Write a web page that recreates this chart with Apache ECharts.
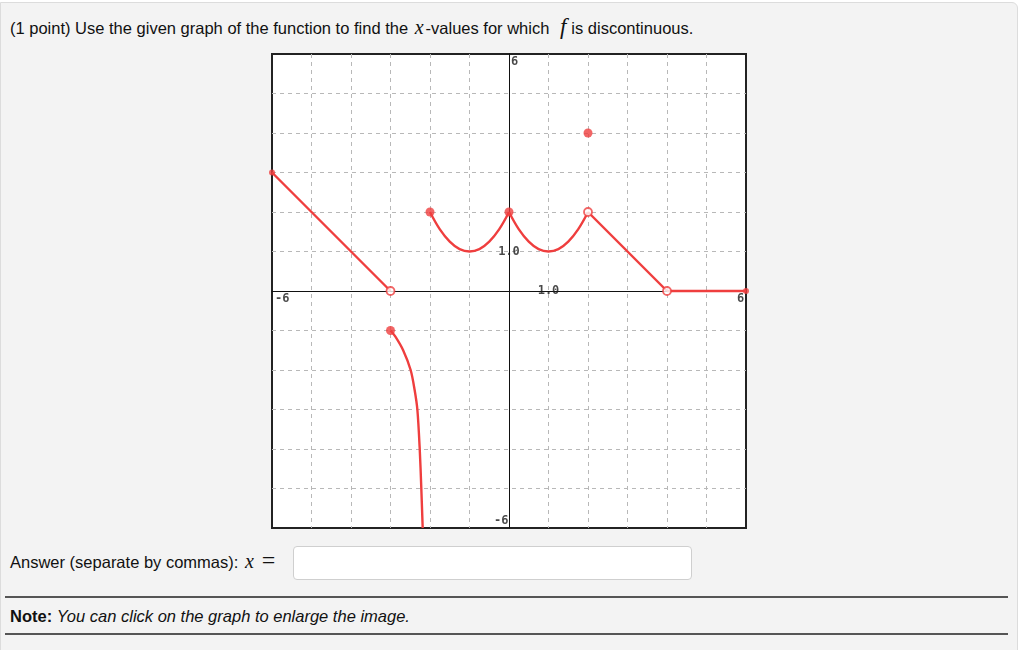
<!DOCTYPE html>
<html>
<head>
<meta charset="utf-8">
<script src="https://cdn.jsdelivr.net/npm/echarts@6/dist/echarts.min.js"></script>
<style>
  html,body{margin:0;padding:0;background:#fff;width:1024px;height:650px;overflow:hidden;font-family:"Liberation Sans",Arial,sans-serif;color:#111;}
  #panel{position:absolute;left:0;top:2px;width:1016px;height:660px;background:#f3f3f3;border:1px solid #dcdcdc;border-radius:0 6px 0 0;}
  .txt{position:absolute;font-size:16.5px;line-height:20px;white-space:nowrap;}
  .mx{font-family:"Liberation Serif","DejaVu Serif",serif;font-style:italic;font-size:20px;line-height:1;margin:0 2px;}
  .mf{font-family:"Liberation Serif","DejaVu Serif",serif;font-style:italic;font-size:23px;line-height:1;margin:0 5px 0 6px;}
  .eq{font-family:"Liberation Serif","DejaVu Serif",serif;font-size:24px;line-height:1;margin-left:6px;}
  #ans{position:absolute;left:293px;top:546px;width:397px;height:32px;background:#fff;border:1px solid #cfcfcf;border-radius:4px;}
  .rule{position:absolute;left:5px;width:1003px;height:0;border-top:2px solid #555;}
  #chart{position:absolute;left:262px;top:44px;width:496px;height:496px;}
</style>
</head>
<body>
<div id="panel"></div>
<div class="txt" style="left:10px;top:15px;">(1 point) Use the given graph of the function to find the <span class="mx">x</span>-values for which <span class="mf">f</span>is discontinuous.</div>
<div class="txt" style="left:10px;top:548px;">Answer (separate by commas): <span class="mx">x</span><span class="eq">=</span></div>
<div id="ans"></div>
<div class="rule" style="top:596px;"></div>
<div class="txt" style="left:10px;top:606px;"><b>Note:</b> <i>You can click on the graph to enlarge the image.</i></div>
<div class="rule" style="top:633px;"></div>
<div id="chart"></div>
<script>
// ---- data ----
const lineA = [[-6, 3], [-3, 0]];
const curveB = [[-3, -1], [-2.88, -1.15], [-2.68, -1.5], [-2.49, -2], [-2.39, -2.5], [-2.32, -3], [-2.26, -4], [-2.22, -5], [-2.185, -6]];
const parabolaC = [[-2, 2], [-1.75, 1.56], [-1.5, 1.25], [-1.25, 1.06], [-1, 1], [-0.75, 1.06], [-0.5, 1.25], [-0.25, 1.56], [0, 2]];
const parabolaD = [[0, 2], [0.25, 1.56], [0.5, 1.25], [0.75, 1.06], [1, 1], [1.25, 1.06], [1.5, 1.25], [1.75, 1.56], [2, 2]];
const lineE = [[2, 2], [4, 0]];
const lineF = [[4, 0], [6, 0]];
const closedDots = [[-3, -1], [-2, 2], [0, 2], [2, 4]];
const edgeDots = [[-6, 3], [6, 0]];
const openDots = [[-3, 0], [2, 2], [4, 0]];
const tickLabels = [
  {value: [0, 6], text: '6', pos: [2, 2]},
  {value: [0, -6], text: '-6', pos: [-15, -13]},
  {value: [0, 1], text: '1.0', pos: 'inside'},
  {value: [1, 0], text: '1.0', pos: 'inside'},
  {value: [-6, 0], text: '-6', pos: [3, 2]},
  {value: [6, 0], text: '6', pos: [-9, 2]}
];
const axisMin = -6, axisMax = 6, axisStep = 1;

const RED = '#ef3e3e';
const chart = echarts.init(document.getElementById('chart'), null, {renderer: 'canvas'});
function lineSeries(data, smooth) {
  return {type: 'line', data: data, smooth: smooth || false, symbol: 'none', clip: true,
    lineStyle: {color: RED, width: 2.4}, z: 3, animation: false};
}
const axisCommon = {
  type: 'value', min: axisMin, max: axisMax, interval: axisStep,
  axisLine: {onZero: true, lineStyle: {color: '#111', width: 1}},
  axisTick: {show: false}, axisLabel: {show: false},
  splitLine: {show: true, showMinLine: false, showMaxLine: false, lineStyle: {color: '#b8b8b8', type: [4, 4], width: 1}}
};
chart.setOption({
  animation: false,
  grid: {left: 10, top: 10, width: 474, height: 474, show: true, backgroundColor: '#fff', borderColor: '#222', borderWidth: 2},
  xAxis: Object.assign({}, axisCommon),
  yAxis: Object.assign({}, axisCommon),
  series: [
    lineSeries(lineA),
    lineSeries(curveB, 0.3),
    lineSeries(parabolaC, 0.4),
    lineSeries(parabolaD, 0.4),
    lineSeries(lineE),
    lineSeries(lineF),
    {type: 'scatter', data: closedDots, symbol: 'circle', symbolSize: 9, itemStyle: {color: RED}, z: 5},
    {type: 'scatter', data: edgeDots, symbol: 'circle', symbolSize: 6, itemStyle: {color: RED}, z: 5},
    {type: 'scatter', data: openDots, symbol: 'circle', symbolSize: 8, itemStyle: {color: '#fff', borderColor: RED, borderWidth: 1.8}, z: 6},
    {type: 'scatter', symbolSize: 0, z: 7, silent: true,
      data: tickLabels.map(t => ({value: t.value, label: {show: true, formatter: t.text, position: t.pos}})),
      label: {show: true, color: '#1a1a1a', fontFamily: '"DejaVu Sans Mono", monospace', fontWeight: 'bold', fontSize: 12}}
  ]
});
</script>
</body>
</html>
